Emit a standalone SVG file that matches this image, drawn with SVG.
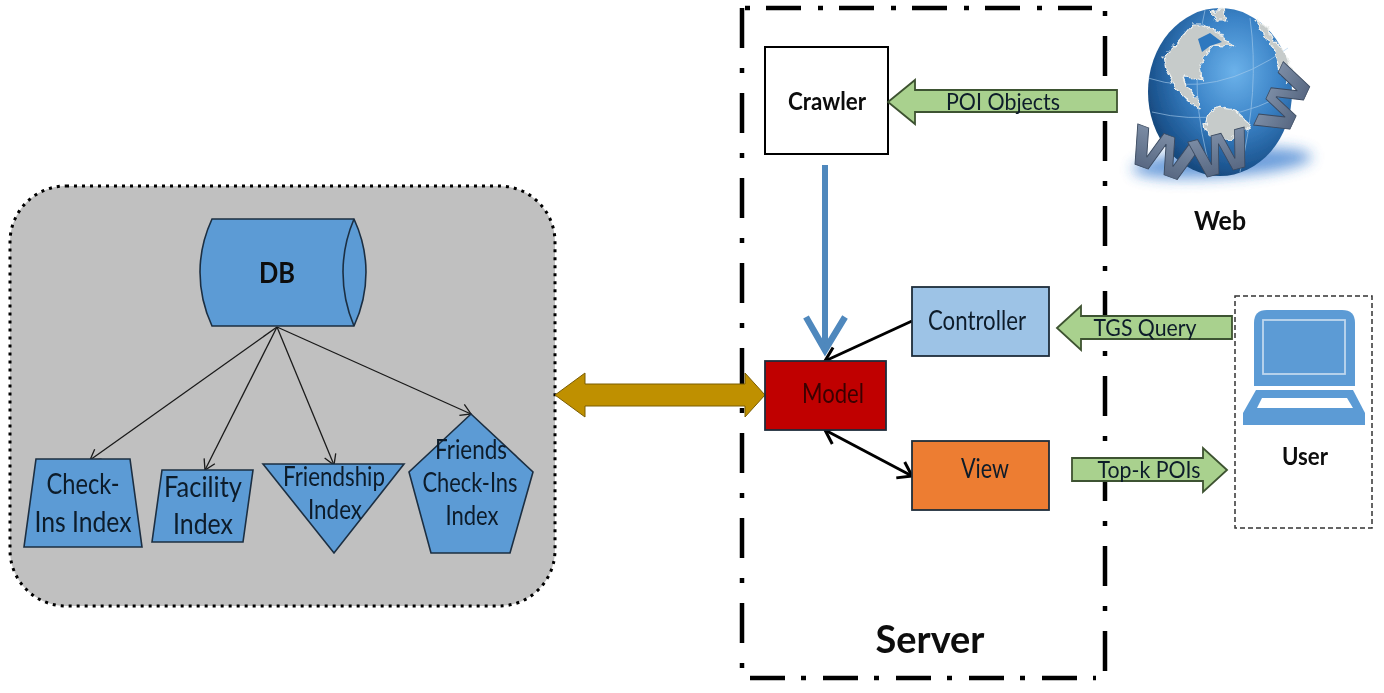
<svg xmlns="http://www.w3.org/2000/svg" width="1384" height="693" viewBox="0 0 1384 693">
<style>
text{font-family:"Lato","Liberation Sans",sans-serif;fill:#0d1b2a;text-anchor:middle}
.b{font-weight:700;fill:#0a0a0a}
.shape{fill:#5B9BD5;stroke:#1c2f42;stroke-width:1.6}
.box{stroke:#1f2d3a;stroke-width:1.8}
.green{fill:#A9D18E;stroke:#3d5230;stroke-width:1.8}
.thin{fill:none;stroke:#1a1a1a;stroke-width:1.3}
.thick{fill:none;stroke:#000;stroke-width:3}
.edge{fill:none;stroke:#000;stroke-width:4.5}
.www{font-family:"DejaVu Sans",sans-serif;font-weight:700;font-size:56px;fill:url(#steel);stroke:#3b4a60;stroke-width:.8}
</style>
<defs>
<marker id="open" markerWidth="16" markerHeight="16" refX="13" refY="8" orient="auto" markerUnits="userSpaceOnUse"><path d="M3 2L13 8L3 14" fill="none" stroke="#1a1a1a" stroke-width="1.3"/></marker>
<marker id="openT" markerWidth="22" markerHeight="22" refX="18" refY="11" orient="auto-start-reverse" markerUnits="userSpaceOnUse"><path d="M5 2L18 11L5 20" fill="none" stroke="#000" stroke-width="3"/></marker>
<radialGradient id="sea" cx="0.6" cy="0.38" r="0.72"><stop offset="0" stop-color="#6cb2ea"/><stop offset="0.45" stop-color="#3a82c6"/><stop offset="0.8" stop-color="#1c5590"/><stop offset="1" stop-color="#123a66"/></radialGradient>
<linearGradient id="steel" x1="0" y1="0" x2="0" y2="1"><stop offset="0" stop-color="#8495ad"/><stop offset="1" stop-color="#4d5d78"/></linearGradient>
<filter id="soft" x="-30%" y="-150%" width="160%" height="400%"><feGaussianBlur stdDeviation="7"/></filter>
<filter id="land" x="-10%" y="-10%" width="120%" height="120%"><feTurbulence type="fractalNoise" baseFrequency="0.16" numOctaves="2" seed="4"/><feDisplacementMap in="SourceGraphic" scale="7" xChannelSelector="R" yChannelSelector="G"/><feGaussianBlur stdDeviation="0.5"/></filter>
<filter id="scan" filterUnits="userSpaceOnUse" x="0" y="0" width="1384" height="693"><feGaussianBlur stdDeviation="0.4"/></filter>
</defs>
<g filter="url(#scan)">
<g id="db-panel"><rect x="10" y="186" width="545" height="420" rx="56" fill="#C0C0C0" stroke="#000" stroke-width="3" stroke-dasharray="3 5"/></g>
<g id="server-panel">
<path class="edge" stroke-dasharray="40 20 5 20" d="M742 8V670"/>
<path class="edge" stroke-dasharray="5 20 40 20" d="M1105 11V671"/>
<path class="edge" stroke-dasharray="5 16 35 17" d="M745 8H1092"/>
<path class="edge" stroke-dasharray="35 16 5 17" d="M750 678H1096"/>
<text x="930" y="653" font-size="38" class="b" textLength="109" lengthAdjust="spacingAndGlyphs">Server</text></g>

<g id="connectors">
<path class="thin" marker-end="url(#open)" d="M277 327L90 460"/>
<path class="thin" marker-end="url(#open)" d="M277 327L205 470"/>
<path class="thin" marker-end="url(#open)" d="M277 327L334 465"/>
<path class="thin" marker-end="url(#open)" d="M277 327L471 414"/>
<path d="M825 165V350" fill="none" stroke="#4F88BD" stroke-width="6"/>
<path d="M806 317L825 350L845 317" fill="none" stroke="#4F88BD" stroke-width="6.5"/>
<path class="thick" marker-end="url(#openT)" d="M912 321L825 361"/>
<path class="thick" marker-start="url(#openT)" marker-end="url(#openT)" d="M825 430L912 476"/>
<path id="gold-arrow" d="M555 395L585 373V384H745V373L765 395L745 417V406H585V417Z" fill="#BF9000" stroke="#7a5c00" stroke-width="1"/>
</g>

<g id="db"><path class="shape" d="M212 219H354Q366 245 366 272Q366 300 354 326H212Q200 300 200 272Q200 245 212 219Z"/><path class="shape" style="fill:none" d="M354 219Q343 245 343 272Q343 300 354 326"/><text x="277" y="283" font-size="28" class="b" textLength="36" lengthAdjust="spacingAndGlyphs">DB</text></g>
<g id="checkins-index"><path class="shape" d="M36 459H130L142 547H24Z"/><text x="83" y="494" font-size="28" textLength="73" lengthAdjust="spacingAndGlyphs">Check-</text><text x="83" y="532" font-size="28" textLength="97" lengthAdjust="spacingAndGlyphs">Ins Index</text></g>
<g id="facility-index"><path class="shape" d="M162 470H253L243 542H152Z"/><text x="203" y="497" font-size="28" textLength="78" lengthAdjust="spacingAndGlyphs">Facility</text><text x="203" y="534" font-size="28" textLength="60" lengthAdjust="spacingAndGlyphs">Index</text></g>
<g id="friendship-index"><path class="shape" d="M263 464H404L334 553Z"/><text x="334" y="486" font-size="26" textLength="102" lengthAdjust="spacingAndGlyphs">Friendship</text><text x="335" y="519" font-size="26" textLength="54" lengthAdjust="spacingAndGlyphs">Index</text></g>
<g id="friends-index"><path class="shape" d="M471 414L533 472L510 553H431L409 472Z"/><text x="471" y="459" font-size="26" textLength="72" lengthAdjust="spacingAndGlyphs">Friends</text><text x="470" y="492" font-size="26" textLength="95" lengthAdjust="spacingAndGlyphs">Check-Ins</text><text x="472" y="525" font-size="26" textLength="53" lengthAdjust="spacingAndGlyphs">Index</text></g>

<g id="crawler"><rect x="765" y="47" width="123" height="107" fill="#fff" stroke="#000" stroke-width="2"/><text x="827" y="110" font-size="24" class="b" textLength="78" lengthAdjust="spacingAndGlyphs">Crawler</text></g>
<g id="controller"><rect class="box" x="912" y="287" width="137" height="69" fill="#9DC3E6"/><text x="977" y="330" font-size="26" textLength="98" lengthAdjust="spacingAndGlyphs">Controller</text></g>
<g id="model"><rect class="box" x="765" y="361" width="121" height="69" fill="#C00000"/><text x="833" y="403" font-size="26" style="fill:#3a0505" textLength="62" lengthAdjust="spacingAndGlyphs">Model</text></g>
<g id="view"><rect class="box" x="912" y="441" width="137" height="69" fill="#ED7D31"/><text x="985" y="478" font-size="26" textLength="48" lengthAdjust="spacingAndGlyphs">View</text></g>

<g id="poi-objects"><path class="green" d="M888 102L915 80V90H1117V112H915V124Z"/><text x="1003" y="110" font-size="24" textLength="114" lengthAdjust="spacingAndGlyphs">POI Objects</text></g>
<g id="tgs-query"><path class="green" d="M1057 328L1081 306V316H1232V339H1081V350Z"/><text x="1145" y="336" font-size="24" textLength="103" lengthAdjust="spacingAndGlyphs">TGS Query</text></g>
<g id="top-k"><path class="green" d="M1227 470L1203 448V458H1072V481H1203V492Z"/><text x="1149" y="478" font-size="24" textLength="103" lengthAdjust="spacingAndGlyphs">Top-k POIs</text></g>

<g id="web">
<ellipse cx="1222" cy="163" rx="90" ry="14" transform="rotate(-4 1222 163)" fill="#2f74cc" opacity="0.7" filter="url(#soft)"/>
<ellipse cx="1220" cy="92" rx="72" ry="84" fill="url(#sea)"/>
<g fill="none" stroke="#a9cdec" stroke-width="1" opacity="0.6"><path d="M1148 78Q1215 100 1288 48"/><path d="M1152 112Q1225 130 1292 90"/><path d="M1205 10Q1186 90 1212 174"/><path d="M1250 18Q1260 90 1240 172"/></g>
<g fill="#c6cbca" stroke="#eef0ee" stroke-width="1.2" filter="url(#land)">
<path d="M1175 45L1192 25L1203 25L1220 33L1227 42L1235 47L1213 45L1205 55L1200 65L1202 80L1195 78L1183 77L1187 88L1198 100L1200 110L1188 100L1175 87L1165 68L1163 57Z"/>
<path d="M1208 115L1217 107L1235 110L1248 122L1252 128L1240 132L1230 140L1208 135L1205 125Z"/>
<path d="M1257 20L1267 28L1273 40L1283 50L1292 70L1288 83L1280 72L1275 50L1263 33Z"/>
<path d="M1210 12L1223 10L1226 20L1216 20Z"/>
</g>
<path d="M1198 39L1210 33L1222 42L1210 46L1202 52Z" fill="#2f78bf"/>
<g>
<text class="www" transform="translate(1156 172) rotate(20) scale(1.15 .95)">W</text>
<text class="www" transform="translate(1226 172) rotate(-15) scale(1 .95)">W</text>
<text class="www" transform="translate(1300 108) rotate(-65) scale(1.2 .85)">W</text>
</g>
<text x="1220" y="230" font-size="26" class="b" textLength="52" lengthAdjust="spacingAndGlyphs">Web</text>
</g>

<g id="user">
<rect x="1235" y="296" width="137" height="232" fill="#fff" stroke="#333" stroke-width="1.5" stroke-dasharray="5 3"/>
<path d="M1267 310H1342Q1355 310 1355 323V386H1254V323Q1254 310 1267 310Z" fill="#5B9BD5"/>
<rect x="1263" y="320" width="82" height="54" fill="#5B9BD5" stroke="#BFD7EE" stroke-width="1.8"/>
<path d="M1256 390H1353L1365 413V425H1243V413Z" fill="#5B9BD5"/>
<path d="M1262 398H1347L1353 408H1257Z" fill="#fff"/>
<text x="1305" y="465" font-size="25" class="b" textLength="46" lengthAdjust="spacingAndGlyphs">User</text>
</g>
</g>
</svg>
